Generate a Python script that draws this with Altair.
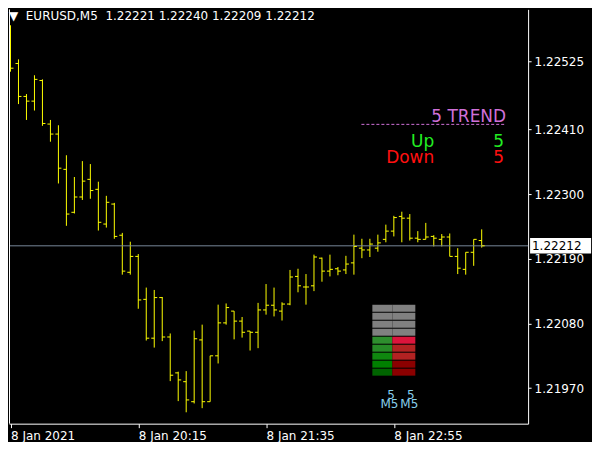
import json
import altair as alt
import pandas as pd

# ---------------- data ----------------
symbol = "EURUSD,M5"

opens = [1.22575, 1.22522, 1.22466, 1.22458, 1.22493, 1.22419, 1.22402, 1.22342, 1.22269, 1.22295,
         1.22325, 1.22308, 1.22249, 1.22283, 1.22230, 1.22167, 1.22194, 1.22121, 1.22055, 1.22124,
         1.22057, 1.21996, 1.21981, 1.21947, 1.22052, 1.21947, 1.22025, 1.22081, 1.22101, 1.22084,
         1.22067, 1.22065, 1.22103, 1.22111, 1.22101, 1.22113, 1.22160, 1.22142, 1.22144, 1.22191,
         1.22169, 1.22173, 1.22171, 1.22183, 1.22208, 1.22205, 1.22208, 1.22223, 1.22237, 1.22262,
         1.22259, 1.22225, 1.22223, 1.22228, 1.22223, 1.22227, 1.22194, 1.22172, 1.22201, 1.22221]
highs = [1.22587, 1.22529, 1.22470, 1.22502, 1.22495, 1.22426, 1.22417, 1.22366, 1.22329, 1.22356,
         1.22351, 1.22321, 1.22297, 1.22285, 1.22234, 1.22219, 1.22198, 1.22141, 1.22137, 1.22125,
         1.22063, 1.21998, 1.21999, 1.22068, 1.22078, 1.22025, 1.22112, 1.22114, 1.22101, 1.22091,
         1.22067, 1.22115, 1.22147, 1.22141, 1.22116, 1.22171, 1.22173, 1.22164, 1.22197, 1.22192,
         1.22197, 1.22176, 1.22195, 1.22231, 1.22224, 1.22224, 1.22231, 1.22248, 1.22263, 1.22270,
         1.22266, 1.22237, 1.22251, 1.22230, 1.22232, 1.22233, 1.22208, 1.22201, 1.22223, 1.22240]
lows = [1.22508, 1.22453, 1.22426, 1.22442, 1.22416, 1.22389, 1.22318, 1.22246, 1.22267, 1.22290,
        1.22292, 1.22238, 1.22243, 1.22224, 1.22163, 1.22163, 1.22105, 1.22051, 1.22039, 1.22050,
        1.21982, 1.21948, 1.21929, 1.21944, 1.21936, 1.21947, 1.22012, 1.22078, 1.22053, 1.22056,
        1.22034, 1.22038, 1.22095, 1.22092, 1.22085, 1.22111, 1.22133, 1.22112, 1.22135, 1.22151,
        1.22160, 1.22162, 1.22164, 1.22163, 1.22191, 1.22193, 1.22202, 1.22218, 1.22228, 1.22218,
        1.22221, 1.22218, 1.22223, 1.22211, 1.22211, 1.22194, 1.22164, 1.22163, 1.22178, 1.22209]
closes = [1.22514, 1.22466, 1.22458, 1.22495, 1.22420, 1.22402, 1.22344, 1.22266, 1.22295, 1.22322,
          1.22306, 1.22252, 1.22286, 1.22228, 1.22169, 1.22194, 1.22120, 1.22055, 1.22124, 1.22057,
          1.21992, 1.21984, 1.21950, 1.22054, 1.21947, 1.22025, 1.22081, 1.22107, 1.22084, 1.22065,
          1.22065, 1.22103, 1.22111, 1.22103, 1.22113, 1.22159, 1.22144, 1.22142, 1.22193, 1.22169,
          1.22172, 1.22169, 1.22181, 1.22211, 1.22205, 1.22215, 1.22217, 1.22237, 1.22260, 1.22259,
          1.22225, 1.22223, 1.22227, 1.22225, 1.22227, 1.22194, 1.22174, 1.22201, 1.22223, 1.22212]

time_tick_index = [0, 16, 32, 48]
time_tick_labels = ["8 Jan 2021", "8 Jan 20:15", "8 Jan 21:35", "8 Jan 22:55"]
price_ticks = [1.22525, 1.22410, 1.22300, 1.22190, 1.22080, 1.21970]

trend_title = "5 TREND"
up_label, down_label = "Up", "Down"
up_value = 5
down_value = 5
strength_levels = 9
timeframes = ["M5", "M5"]
tf_values = [5, 5]

# ---------------- layout / style ----------------
W, H = 520, 415
BAR_PX = 8
X_MIN = -0.1875
X_MAX = X_MIN + W / BAR_PX
Y_TOP = 1.22614
PRICE_PER_PX = 1.6972e-5
Y_BOTTOM = Y_TOP - H * PRICE_PER_PX
FONT = "DejaVu Sans"
YELLOW = "#FFFF00"
ORCHID = "#D070D8"
GREEN = "#22EE22"
RED = "#FF1010"
GRAY = "#808080"
GREENS = ["#2E8E2E", "#268A26", "#0F870F", "#008000", "#006400"]
REDS = ["#DC143C", "#B22222", "#B22222", "#8B0000", "#8B0000"]
TF_COLOR = "#87CEEB"

xs = alt.Scale(domain=[X_MIN, X_MAX], nice=False, zero=False)
ys = alt.Scale(domain=[Y_BOTTOM, Y_TOP], nice=False, zero=False)

label_expr = json.dumps(time_tick_labels) + "[indexof(" + json.dumps(time_tick_index) + ", datum.value)]"

x_axis = alt.Axis(values=time_tick_index, labelExpr=label_expr, title=None, grid=False,
                  domainColor="white", tickColor="white", tickSize=4, labelColor="white",
                  labelFont=FONT, labelFontSize=12, labelAlign="left", labelPadding=3,
                  labelFlush=False, labelOverlap=False)
y_axis = alt.Axis(orient="right", values=price_ticks, format=".5f", title=None, grid=False,
                  domainColor="white", tickColor="white", tickSize=3, labelColor="white",
                  labelFont=FONT, labelFontSize=12, labelPadding=3, labelFlush=False,
                  labelOverlap=False)

df = pd.DataFrame({"i": list(range(len(opens))), "open": opens, "high": highs,
                   "low": lows, "close": closes})
base = alt.Chart(df).transform_calculate(xl="datum.i - 0.375", xr="datum.i + 0.375")

wick = base.mark_rule(color=YELLOW, strokeWidth=1, clip=True).encode(
    x=alt.X("i:Q", scale=xs, axis=x_axis),
    y=alt.Y("low:Q", scale=ys, axis=y_axis),
    y2="high:Q")
open_tick = base.mark_rule(color=YELLOW, strokeWidth=1, clip=True).encode(
    x=alt.X("xl:Q", title=None), x2="i:Q", y=alt.Y("open:Q", title=None))
close_tick = base.mark_rule(color=YELLOW, strokeWidth=1, clip=True).encode(
    x=alt.X("i:Q", title=None), x2="xr:Q", y=alt.Y("close:Q", title=None))

# current price line and its label box on the price scale
last = closes[-1]
cur = pd.DataFrame({"p": [last], "lo": [last - 0.000132], "hi": [last + 0.000132],
                    "x0": [65.06], "x1": [72.7], "tx": [65.3], "label": [f"{last:.5f}"]})
price_line = alt.Chart(cur).mark_rule(color="#778899", strokeWidth=1).encode(
    y=alt.Y("p:Q", title=None))
price_box = alt.Chart(cur).mark_rect(color="white", clip=False).encode(
    x=alt.X("x0:Q", title=None), x2="x1:Q", y=alt.Y("lo:Q", title=None), y2="hi:Q")
price_text = alt.Chart(cur).mark_text(color="black", align="left", baseline="middle",
                                      font=FONT, fontSize=12, clip=False).encode(
    x=alt.X("tx:Q", title=None), y=alt.Y("p:Q", title=None), text="label:N")

left_border = alt.Chart(cur).mark_rule(color="white", strokeWidth=1).encode(
    x=alt.value(0.5), y=alt.value(0), y2=alt.value(H))

# trend indicator texts
ann = pd.DataFrame([
    {"x": 62.06, "y": 1.22422, "t": trend_title, "c": ORCHID},
    {"x": 53.06, "y": 1.22380, "t": up_label, "c": GREEN},
    {"x": 61.81, "y": 1.22380, "t": str(up_value), "c": GREEN},
    {"x": 53.06, "y": 1.22353, "t": down_label, "c": RED},
    {"x": 61.81, "y": 1.22353, "t": str(down_value), "c": RED},
])
ann_text = alt.Chart(ann).mark_text(align="right", baseline="alphabetic", font=FONT,
                                    fontSize=17).encode(
    x=alt.X("x:Q", title=None), y=alt.Y("y:Q", title=None), text="t:N",
    color=alt.Color("c:N", scale=None))
dashed = alt.Chart(cur).mark_rule(color=ORCHID, strokeDash=[3, 2], strokeWidth=1).encode(
    x=alt.datum(43.94), x2=alt.datum(62.06), y=alt.datum(1.224185))

# strength meter
cells = []
row_top0, row_step, row_h = 1.221118, 0.0001358, 0.0001188
for k in range(strength_levels):
    top = row_top0 - k * row_step
    bot = top - row_h
    lit_up = k >= strength_levels - up_value
    lit_dn = k >= strength_levels - down_value
    cells.append({"x0": 45.31, "x1": 47.81, "y0": bot, "y1": top,
                  "c": GREENS[k - (strength_levels - up_value)] if lit_up else GRAY})
    cells.append({"x0": 47.81, "x1": 50.69, "y0": bot, "y1": top,
                  "c": REDS[k - (strength_levels - down_value)] if lit_dn else GRAY})
meter = alt.Chart(pd.DataFrame(cells)).mark_rect().encode(
    x=alt.X("x0:Q", title=None), x2="x1:Q", y=alt.Y("y0:Q", title=None), y2="y1:Q",
    color=alt.Color("c:N", scale=None))

tf_rows = []
for j, (tf, v) in enumerate(zip(timeframes, tf_values)):
    cx = 47.44 + j * 2.5
    tf_rows.append({"x": cx + 0.2, "y": 1.219523, "t": str(v)})
    tf_rows.append({"x": cx, "y": 1.219370, "t": tf})
tf_text = alt.Chart(pd.DataFrame(tf_rows)).mark_text(
    align="center", baseline="alphabetic", font=FONT, fontSize=12, color=TF_COLOR).encode(
    x=alt.X("x:Q", title=None), y=alt.Y("y:Q", title=None), text="t:N")

# header (symbol, timeframe and last bar OHLC)
header = ("\u25BC\u00a0\u00a0" + symbol + "\u00a0\u00a0" +
          " ".join(f"{v:.5f}" for v in [opens[-1], highs[-1], lows[-1], closes[-1]]))
head = alt.Chart(pd.DataFrame({"t": [header]})).mark_text(
    align="left", baseline="alphabetic", dy=11, font=FONT, fontSize=12, color="white",
    clip=False).encode(x=alt.datum(X_MIN), y=alt.datum(Y_TOP), text="t:N")

chart = alt.layer(
    wick, price_line, open_tick, close_tick, dashed, ann_text, meter, tf_text,
    left_border, price_box, price_text, head
).properties(
    width=W, height=H, padding=0, background="#000000",
).configure_view(strokeWidth=0)

chart.save("out.html", embed_options={"renderer": "svg", "actions": False})
